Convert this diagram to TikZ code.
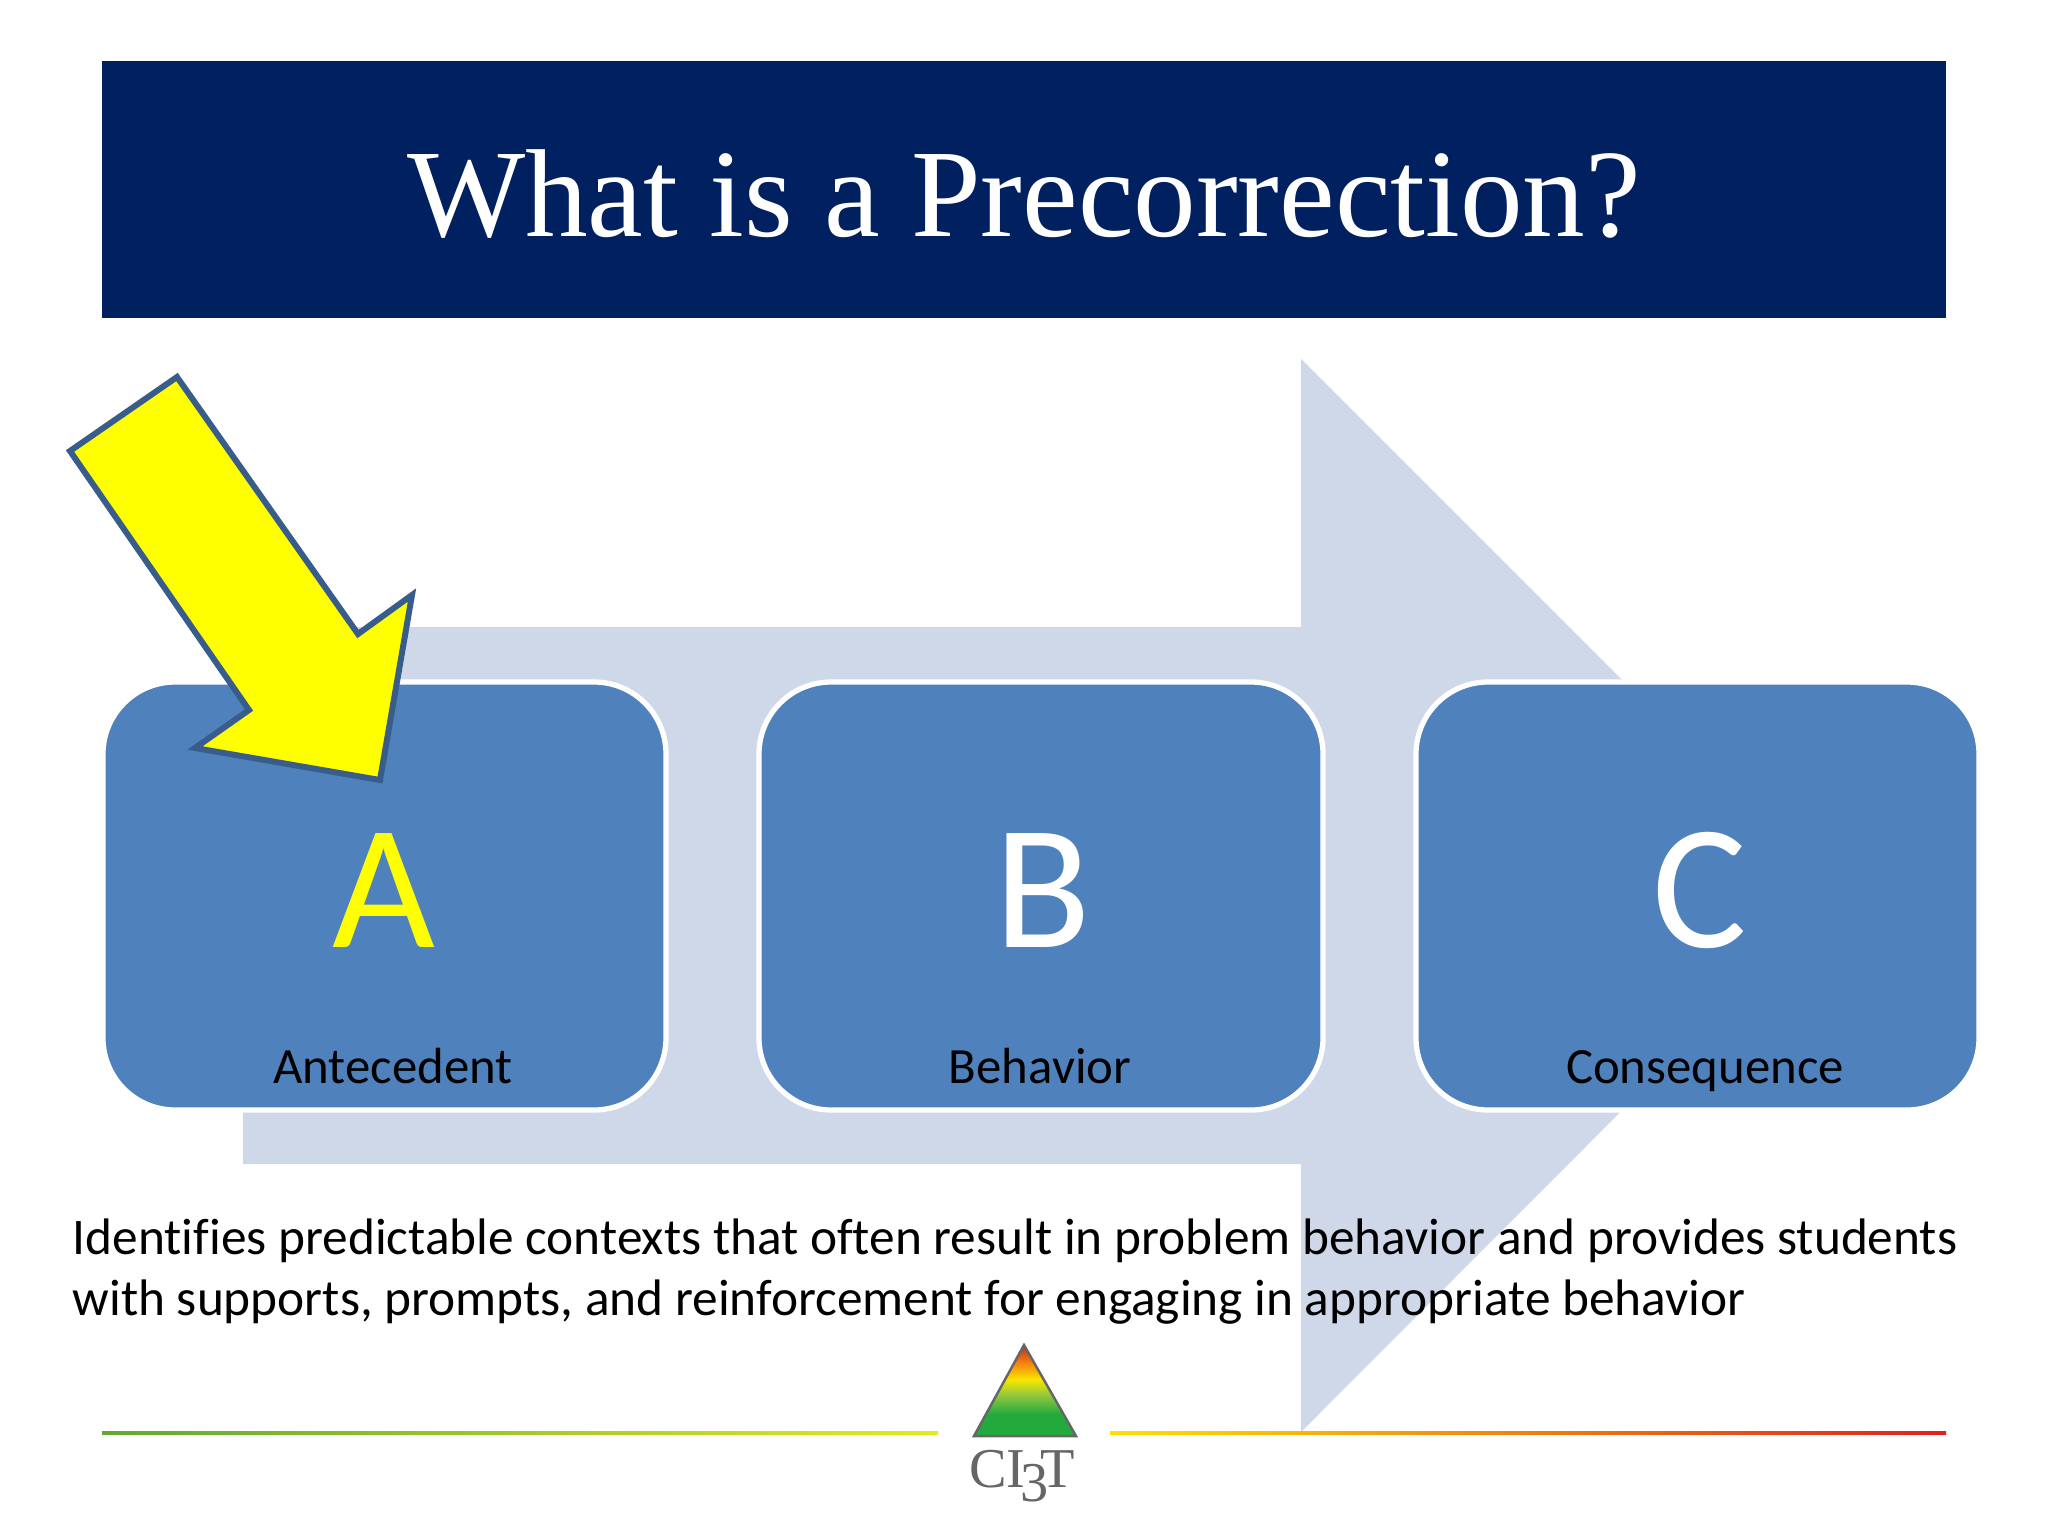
\documentclass[tikz,border=0pt]{standalone}
\usepackage{xcolor}
\usepackage{fontspec}
\setmainfont{Carlito}[Ligatures=NoCommon]
\newfontfamily\serifface{Liberation Serif}
\definecolor{bannerblue}{HTML}{002060}
\definecolor{boxblue}{HTML}{4F81BD}
\definecolor{paleblue}{HTML}{CFD8E9}
\definecolor{edgeblue}{HTML}{385D8A}
\definecolor{logogray}{HTML}{666666}
\definecolor{brightyellow}{HTML}{FFFF00}
\definecolor{logogreen}{HTML}{22AA3C}
\definecolor{logolime}{HTML}{8CC63F}
\definecolor{logoyellow}{HTML}{F7E600}
\definecolor{logoorange}{HTML}{F47A10}
\definecolor{logored}{HTML}{B5301C}
\definecolor{rulegreen}{HTML}{62A832}
\definecolor{rulelime}{HTML}{E4EA1C}
\definecolor{ruleyellow}{HTML}{FFE000}
\definecolor{ruleorange}{HTML}{F39A1A}
\definecolor{rulered}{HTML}{E0201C}
\pgfdeclareverticalshading{pyramid}{100bp}{color(0bp)=(logogreen);
  color(25bp)=(logogreen); color(37bp)=(logogreen); color(47bp)=(logolime); color(56bp)=(logoyellow);
  color(66bp)=(logoorange); color(75bp)=(logored); color(100bp)=(logored)}

\begin{document}
\begin{tikzpicture}[x=0.01cm,y=-0.01cm,
    abcbox/.style={draw=white, line width=1.5pt, fill=boxblue, rounded corners=0.72cm},
    letter/.style={anchor=base, font=\fontsize{50.5}{60}\selectfont},
    caption/.style={anchor=base, text=black, font=\fontsize{14.45}{17}\selectfont}]
    \useasboundingbox (0,0) rectangle (2048,1536);
    \fill[white] (0,0) rectangle (2048,1536);

    \fill[bannerblue] (102,61) rectangle (1946,318);
    \node[text=white, inner sep=0pt, anchor=base, font=\serifface\fontsize{35.6}{40}\selectfont] (title) at (1024,236) {What is a Precorrection?};

    \fill[paleblue] (243,627) -- (1301,627) -- (1301,359) -- (1837,895) -- (1301,1432) -- (1301,1164) -- (243,1164) -- cycle;

    \draw[abcbox] (103,682) rectangle (666,1110);
    \draw[abcbox] (759,682) rectangle (1323,1110);
    \draw[abcbox] (1416,682) rectangle (1979,1110);

    \node[letter, text=brightyellow] (lettera) at (384,947) {A};
    \node[letter, text=white] (letterb) at (1043,947) {B};
    \node[letter, text=white] (letterc) at (1700,947) {C};
    \node[caption] (antecedent) at (393,1083) {Antecedent};
    \node[caption] (behavior) at (1040,1083) {Behavior};
    \node[caption] (consequence) at (1705,1083) {Consequence};

    \draw[draw=edgeblue, line width=1.7pt, fill=brightyellow, miter limit=10] (177,377) -- (70,451) -- (249,710) -- (195,748) -- (380,780) -- (412,595) -- (358,634) -- cycle;

    \node[anchor=north west, align=left, inner sep=0pt, text=black, font=\fontsize{14.6}{17.4}\selectfont] (definition) at (72,1218)
      {Identifies predictable contexts that often result in problem behavior and provides students\\
       with supports, prompts, and reinforcement for engaging in appropriate behavior};

    % footer
    \shade[left color=rulegreen, right color=rulelime] (102,1431.5) rectangle (938,1434.5);
    \shade[left color=ruleyellow, middle color=ruleorange, right color=rulered] (1110,1431.5) rectangle (1946,1434.5);
    \shade[shading=pyramid, draw=logogray, line width=0.7pt] (1024,1345) -- (974,1436) -- (1076,1436) -- cycle;
    \node[anchor=base, inner sep=0pt, text=logogray, font=\serifface\fontsize{16}{20}\selectfont] (logo) at (1022,1487)
      {CI\kern-.1em\raisebox{-.55ex}{3}\kern-.14em T};
\end{tikzpicture}
\end{document}
